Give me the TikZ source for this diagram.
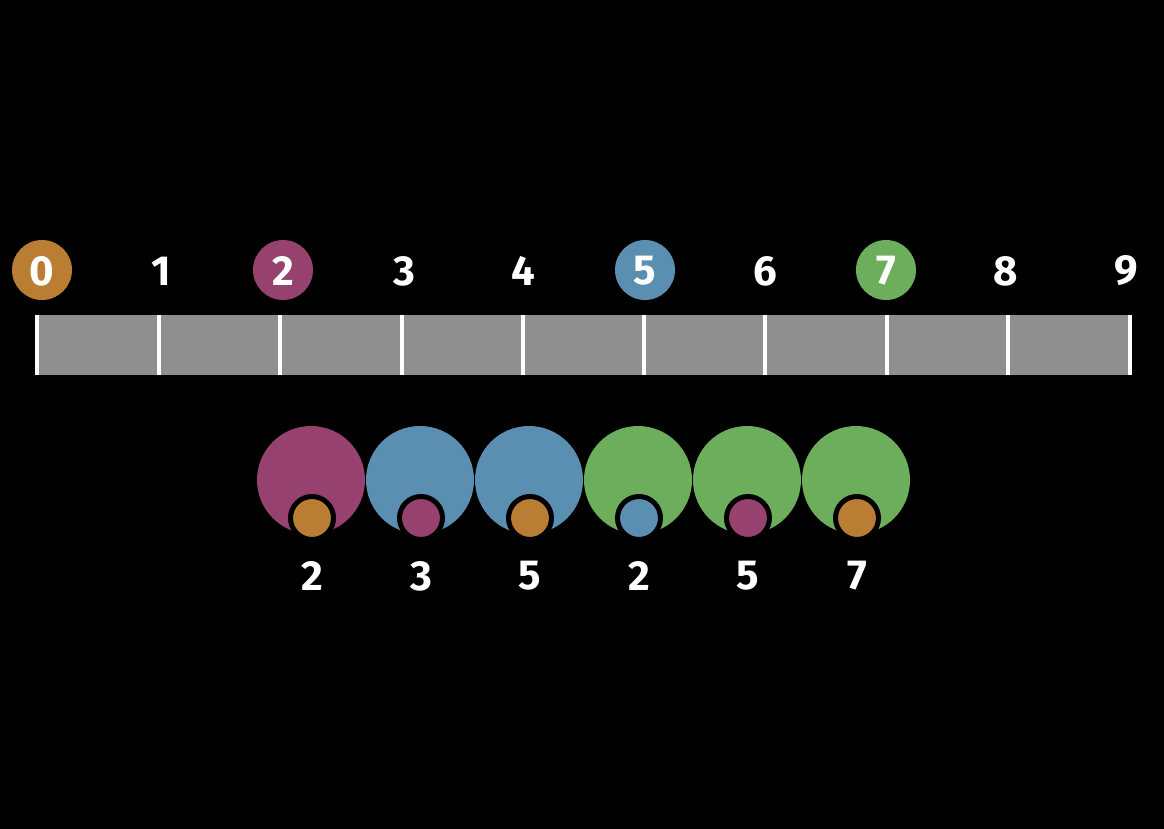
\documentclass[tikz,border=0pt]{standalone}
\usepackage{fontspec}
\setmainfont{Fira Sans}[BoldFont={Fira Sans Bold}]
\definecolor{corange}{HTML}{B97E33}
\definecolor{cpink}{HTML}{97416E}
\definecolor{cblue}{HTML}{5B8FB1}
\definecolor{cgreen}{HTML}{6CAE5C}
\definecolor{cgray}{HTML}{8F8F8F}
\tikzset{
  px/.style={x=0.5pt,y=-0.5pt},
  lbl/.style={text=white,font=\bfseries\fontsize{21}{21}\selectfont,inner sep=0pt},
  topdot/.style={circle,fill=#1,minimum size=30pt,inner sep=0pt},
  bigdot/.style={circle,fill=#1,minimum size=54pt,inner sep=0pt},
  smalldot/.style={circle,fill=#1,draw=black,line width=2.5pt,minimum size=21.5pt,inner sep=0pt},
  tick/.style={white,line width=2pt},
}
\begin{document}
\begin{tikzpicture}[px]
\fill[black] (0,0) rectangle (1164,829);
\useasboundingbox (0,0) rectangle (1164,829);
% bar
\node[fill=cgray,minimum width=546.5pt,minimum height=30pt,inner sep=0pt,anchor=north west] (bar) at (37,315) {};
\foreach \i/\x in {0/37,1/159,2/280,3/402,4/523,5/644,6/765,7/887,8/1008,9/1130}{
  \coordinate (t\i) at (\x,315);
  \draw[tick] (t\i) -- ++(0,60);
}
% top circles
\node[topdot=corange] (c0) at (42,270) {};
\node[topdot=cpink] (c2) at (283,270) {};
\node[topdot=cblue] (c5) at (645,270) {};
\node[topdot=cgreen] (c7) at (886,270) {};
% top labels
\foreach \i/\x in {0/42,1/161,2/283,3/404,4/523,5/645,6/765,7/886,8/1006,9/1126}{
  \node[lbl] (n\i) at (\x,271) {\i};
}
% bottom circles
\foreach \k/\x/\big/\small/\v in {1/311/cpink/corange/2,2/420/cblue/cpink/3,3/529/cblue/corange/5,4/638/cgreen/cblue/2,5/747/cgreen/cpink/5,6/856/cgreen/corange/7}{
  \node[bigdot=\big] (b\k) at (\x,480) {};
  \node[smalldot=\small] (s\k) at (\x+1,518) {};
  \node[lbl] (v\k) at (\x+1,576) {\v};
}
\end{tikzpicture}
\end{document}
